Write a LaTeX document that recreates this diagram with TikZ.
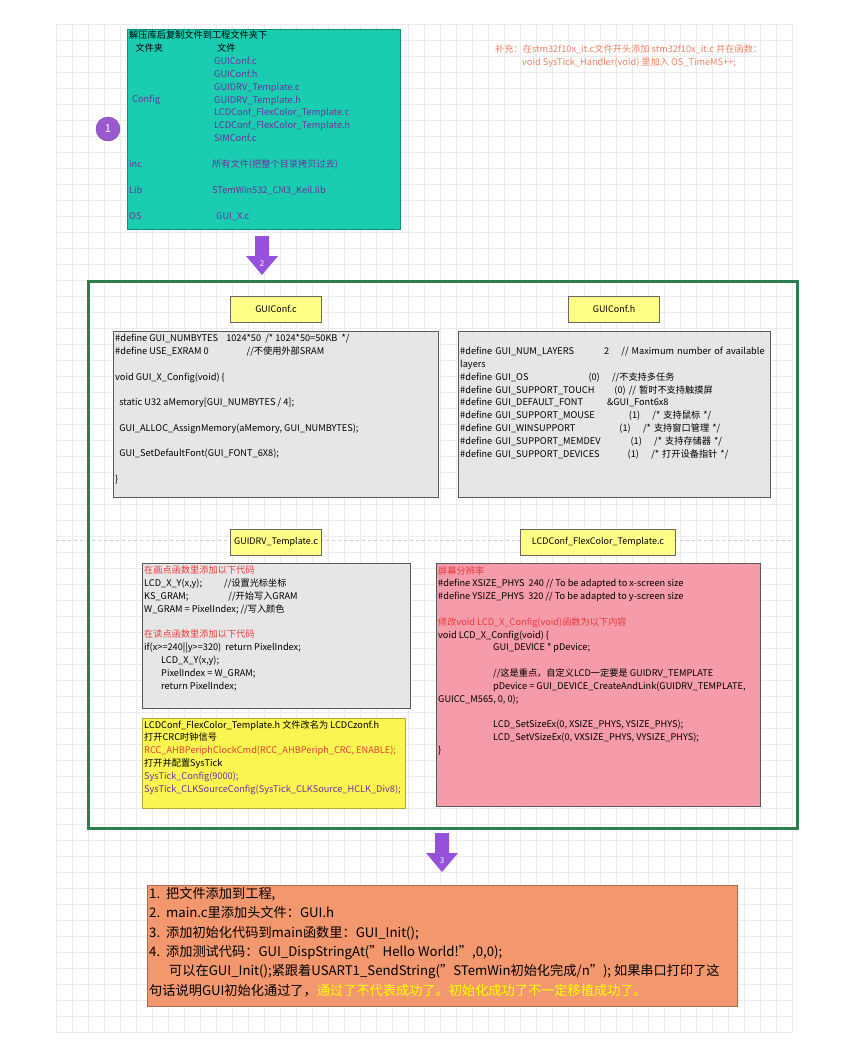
\documentclass[tikz,border=0pt]{standalone}
\usepackage{fontspec}
\setmainfont{Noto Sans CJK SC}
\usetikzlibrary{arrows.meta}
\definecolor{teal1}{RGB}{26,204,176}
\definecolor{purp}{RGB}{112,48,160}
\definecolor{circ}{RGB}{155,89,208}
\definecolor{arr}{RGB}{150,80,220}
\definecolor{frame}{RGB}{46,125,80}
\definecolor{lab}{RGB}{255,255,136}
\definecolor{greyb}{RGB}{230,230,230}
\definecolor{yel}{RGB}{250,245,80}
\definecolor{pink}{RGB}{245,155,170}
\definecolor{orng}{RGB}{243,152,110}
\definecolor{redt}{RGB}{230,60,60}
\definecolor{sal}{RGB}{240,130,100}
\definecolor{yt}{RGB}{255,255,0}
\tikzset{
  box/.style={draw=#1!70!black, line width=0.6pt, anchor=north west, inner sep=0pt},
  lab/.style={draw=gray!80!black, fill=lab, minimum width=91pt, minimum height=26pt, font=\fontsize{9}{10}\selectfont},
  txt/.style={anchor=north west, align=left, inner sep=0pt, font=\fontsize{9.2}{12.8}\selectfont},
  bigarrow/.style={fill=arr, draw=none},
}
\begin{document}
\begin{tikzpicture}[x=1pt,y=-1pt]
\useasboundingbox (0,0) rectangle (851,1042);
\fill[white] (0,0) rectangle (851,1042);
\foreach \i in {0,...,46} {\draw[gray!15, line width=0.4pt] (56+16*\i,24) -- (56+16*\i,1032);}
\foreach \j in {0,...,63} {\draw[gray!15, line width=0.4pt] (56,24+16*\j) -- (792,24+16*\j);}
\draw[gray!40, dashed, line width=0.4pt] (56,540) -- (792,540);
% teal box
\node[box=teal1, fill=teal1, minimum width=273pt, minimum height=200pt] (teal) at (127,29) {};
\node[txt] (t1) at (129,31) {解压库后复制文件到工程文件夹下\\\ \ \ 文件夹};
\node[txt] at (217,44) {文件};
\node[txt, text=purp] (t2) at (214,57) {GUIConf.c\\GUIConf.h\\GUIDRV\_Template.c\\GUIDRV\_Template.h\\LCDConf\_FlexColor\_Template.c\\LCDConf\_FlexColor\_Template.h\\SIMConf.c};
\node[txt, text=purp] at (132,95) {Config};
\node[txt, text=purp] at (129,160) {inc};
\node[txt, text=purp] at (212,160) {所有文件(把整个目录拷贝过去)};
\node[txt, text=purp] at (129,186) {Lib};
\node[txt, text=purp] at (212,186) {STemWin532\_CM3\_Keil.lib};
\node[txt, text=purp] at (129,212) {OS};
\node[txt, text=purp] at (216,212) {GUI\_X.c};
\node[circle, fill=circ, draw=circ!70!black, minimum size=24pt, inner sep=0pt, text=white, font=\fontsize{11}{12}\selectfont] (c1) at (108,129) {1};
\node[txt, text=sal] (sup) at (495,45) {补充：在stm32f10x\_it.c文件开头添加 stm32f10x\_it.c 并在函数：\\\hspace*{27pt}void SysTick\_Handler(void) 里加入 OS\_TimeMS++;};
% arrow 2
\fill[bigarrow] (255,236) -- (269,236) -- (269,256) -- (278,256) -- (262,275) -- (246,256) -- (255,256) -- cycle;
\node[text=white, font=\fontsize{8}{9}\selectfont] at (262,264) {2};
% frame
\draw[frame, line width=3pt] (88,281) rectangle (797,828);
\node[lab] (l1) at (276,309) {GUIConf.c};
\node[lab] (l2) at (614,309) {GUIConf.h};
\node[lab] (l3) at (276,542) {GUIDRV\_Template.c};
\node[lab, minimum width=155pt] (l4) at (598,542) {LCDConf\_FlexColor\_Template.c};
% grey left
\node[box=gray, fill=greyb, minimum width=325pt, minimum height=166pt] (g1) at (113,331) {};
\node[txt] at (115,334) {\#define GUI\_NUMBYTES\ \ \ \ 1024*50\ \ /* 1024*50=50KB\ \ */\\
\#define USE\_EXRAM 0\hspace{38pt}//不使用外部SRAM\\[12.8pt]
void GUI\_X\_Config(void) \{\\[12.8pt]
\ \ static U32 aMemory[GUI\_NUMBYTES / 4];\\[12.8pt]
\ \ GUI\_ALLOC\_AssignMemory(aMemory, GUI\_NUMBYTES);\\[12.8pt]
\ \ GUI\_SetDefaultFont(GUI\_FONT\_6X8);\\[12.8pt]
\}};
% grey right
\node[box=gray, fill=greyb, minimum width=312pt, minimum height=166pt] (g2) at (458,331) {};
\node[txt, text width=308pt] at (460,347) {\#define GUI\_NUM\_LAYERS\hspace{30pt}2\ \ \ \ // Maximum number of available layers\\
\#define GUI\_OS\hspace{60pt}(0)\ \ \ \ //不支持多任务\\
\#define GUI\_SUPPORT\_TOUCH\hspace{20pt}(0)\ // 暂时不支持触摸屏\\
\#define GUI\_DEFAULT\_FONT\hspace{24pt}\&GUI\_Font6x8\\
\#define GUI\_SUPPORT\_MOUSE\hspace{34pt}(1)\ \ \ \ /* 支持鼠标 */\\
\#define GUI\_WINSUPPORT\hspace{44pt}(1)\ \ \ \ /* 支持窗口管理 */\\
\#define GUI\_SUPPORT\_MEMDEV\hspace{30pt}(1)\ \ \ \ /* 支持存储器 */\\
\#define GUI\_SUPPORT\_DEVICES\hspace{28pt}(1)\ \ \ \ /* 打开设备指针 */};
% GUIDRV box
\node[box=gray, fill=greyb, minimum width=268pt, minimum height=145pt] (g3) at (142,563) {};
\node[txt] at (144,566) {\textcolor{redt}{在画点函数里添加以下代码}\\
LCD\_X\_Y(x,y);\hspace{22pt}//设置光标坐标\\
KS\_GRAM;\hspace{40pt}//开始写入GRAM\\
W\_GRAM = PixelIndex; //写入颜色\\[12.8pt]
\textcolor{redt}{在读点函数里添加以下代码}\\
if(x>=240||y>=320)\ \ return PixelIndex;\\
\hspace{17pt}LCD\_X\_Y(x,y);\\
\hspace{17pt}PixelIndex = W\_GRAM;\\
\hspace{17pt}return PixelIndex;};
% yellow
\node[box=yel, fill=yel, minimum width=263pt, minimum height=90pt] (y1) at (142,718) {};
\node[txt] at (144,720) {LCDConf\_FlexColor\_Template.h 文件改名为 LCDCzonf.h\\
打开CRC时钟信号\\
\textcolor{redt}{RCC\_AHBPeriphClockCmd(RCC\_AHBPeriph\_CRC, ENABLE);}\\
打开并配置SysTick\\
\textcolor{purp}{SysTick\_Config(9000);}\\
\textcolor{purp}{SysTick\_CLKSourceConfig(SysTick\_CLKSource\_HCLK\_Div8);}};
% pink
\node[box=gray, fill=pink, minimum width=324pt, minimum height=243pt] (p1) at (436,563) {};
\node[txt] at (438,566) {\textcolor{redt}{屏幕分辨率}\\
\#define XSIZE\_PHYS\ \ 240 // To be adapted to x-screen size\\
\#define YSIZE\_PHYS\ \ 320 // To be adapted to y-screen size\\[12.8pt]
\textcolor{redt}{修改void LCD\_X\_Config(void)函数为以下内容}\\
void LCD\_X\_Config(void) \{\\
\hspace{55pt}GUI\_DEVICE * pDevice;\\[12.8pt]
\hspace{55pt}//这是重点，自定义LCD一定要是 GUIDRV\_TEMPLATE\\
\hspace{55pt}pDevice = GUI\_DEVICE\_CreateAndLink(GUIDRV\_TEMPLATE,\\
GUICC\_M565, 0, 0);\\[12.8pt]
\hspace{55pt}LCD\_SetSizeEx(0, XSIZE\_PHYS, YSIZE\_PHYS);\\
\hspace{55pt}LCD\_SetVSizeEx(0, VXSIZE\_PHYS, VYSIZE\_PHYS);\\
\}};
% arrow 3
\fill[bigarrow] (435,833) -- (449,833) -- (449,853) -- (458,853) -- (442,872) -- (426,853) -- (435,853) -- cycle;
\node[text=white, font=\fontsize{8}{9}\selectfont] at (442,861) {3};
% orange
\node[box=orng, fill=orng, minimum width=590pt, minimum height=121pt] (o1) at (147,885) {};
\node[txt, font=\fontsize{13.2}{19.4}\selectfont] at (149,887) {1.\ \ 把文件添加到工程,\\
2.\ \ main.c里添加头文件：GUI.h\\
3.\ \ 添加初始化代码到main函数里：GUI\_Init();\\
4.\ \ 添加测试代码：GUI\_DispStringAt("Hello World!",0,0);\\
\hspace{20pt}可以在GUI\_Init();紧跟着USART1\_SendString("STemWin初始化完成/n"); 如果串口打印了这\\
句话说明GUI初始化通过了，\textcolor{yt}{通过了不代表成功了。初始化成功了不一定移植成功了。}};
\end{tikzpicture}
\end{document}
